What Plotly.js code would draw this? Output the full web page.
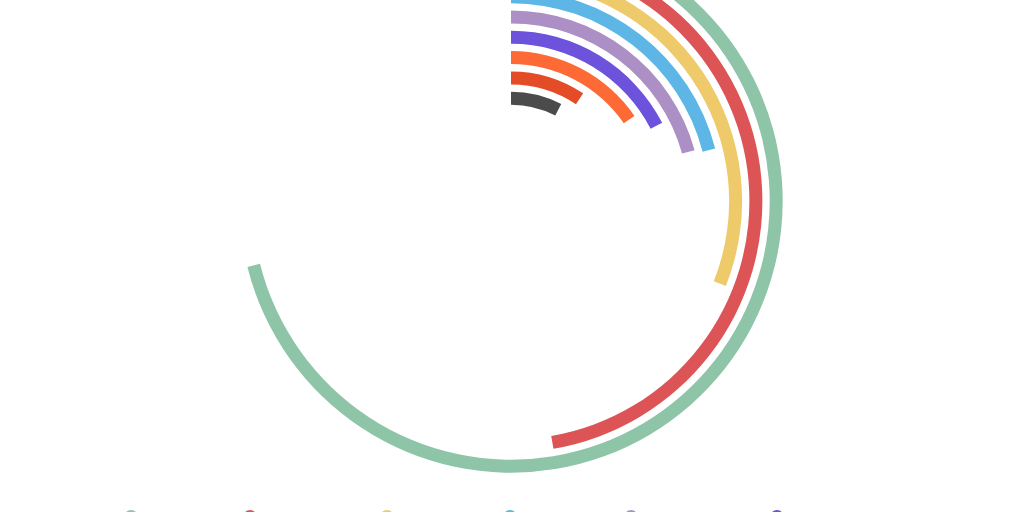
<!DOCTYPE html>
<html>
<head>
<meta charset="utf-8">
<title>Radial progress rings</title>
<script src="https://cdn.plot.ly/plotly-3.0.1.min.js"></script>
<style>
  html, body { margin: 0; padding: 0; background: #ffffff; overflow: hidden; }
  body { width: 1024px; height: 512px; position: relative; }
  /* the ring chart is taller than the window, so the div is shifted up */
  #chart { position: absolute; left: 0; top: -74px; width: 1024px; height: 640px; }
</style>
</head>
<body>
<div id="chart"></div>
<script>
// legend order = outer ring first
const CATEGORIES = [
  "Direct Entry",
  "Search Queries",
  "Podcast Ads",
  "Affiliate Ads",
  "Social Networks",
  "Union Campaign",
  "Newsletters",
  "Referrals",
  "Other Sources",
];
// share of a full turn, in percent
const VALUES = [71.1, 47.3, 31.0, 21.0, 20.7, 17.4, 15.4, 9.4, 7.6];
const COLORS = [
  "#8ec4a7",
  "#dd5457",
  "#efca6a",
  "#5db6e5",
  "#ab8fc5",
  "#6d53dc",
  "#fe6a35",
  "#e34c26",
  "#4b4b4b",
];
const MAX_VALUE = 100;

const THEME = {
  ink: "#333333",
  paper: "#ffffff",
  fontFamily: "\"DejaVu Sans\", sans-serif",
};

const RING = {
  first: 102.8,   // centre radius of the innermost ring
  pitch: 20.3,
  thickness: 13,
  outer: 275,
};

// legend entries sit just below the window edge, only the dot tops peek in.
// marker centre x (px) for each entry; row 2 is off screen
const LEGEND_SLOTS = [
  { x: 131, row: 0 }, { x: 250, row: 0 }, { x: 387, row: 0 },
  { x: 510, row: 0 }, { x: 631, row: 0 }, { x: 777, row: 0 },
  { x: 380, row: 1 }, { x: 510, row: 1 }, { x: 640, row: 1 },
];
const FIG_W = 1024;
const FIG_H = 640;
const LEGEND_TOP = 576.5; // px from top of the div
const ROW_STEP = 24;

function legendId(i) {
  return i === 0 ? "legend" : "legend" + (i + 1);
}

function ringTraces() {
  const n = CATEGORIES.length;
  const traces = [];
  CATEGORIES.forEach((name, i) => {
    const level = n - 1 - i;
    const deg = (VALUES[i] / MAX_VALUE) * 360;
    traces.push({
      type: "barpolar",
      name,
      legendgroup: name,
      showlegend: false,
      base: [RING.first + level * RING.pitch - RING.thickness / 2],
      r: [RING.thickness],
      theta: [deg / 2],
      width: [deg],
      marker: { color: COLORS[i], line: { width: 0 } },
      hovertemplate: name + ": " + VALUES[i] + "<extra></extra>",
    });
  });
  // round legend markers, one small legend each
  CATEGORIES.forEach((name, i) => {
    traces.push({
      type: "scatterpolar",
      mode: "markers",
      name,
      legendgroup: name,
      legend: legendId(i),
      r: [null],
      theta: [null],
      marker: { color: COLORS[i], size: 14, symbol: "circle" },
      hoverinfo: "skip",
    });
  });
  return traces;
}

const layout = {
  width: FIG_W,
  height: FIG_H,
  margin: { l: 0, r: 0, t: 0, b: 0 },
  paper_bgcolor: THEME.paper,
  font: { family: THEME.fontFamily, color: THEME.ink, size: 12 },
  showlegend: true,
  polar: {
    domain: { x: [0, 1022 / FIG_W], y: [1 - 550 / FIG_H, 1] },
    bgcolor: THEME.paper,
    hole: 0,
    angularaxis: {
      visible: false,
      direction: "clockwise",
      rotation: 90,
      thetaunit: "degrees",
    },
    radialaxis: {
      visible: false,
      range: [0, RING.outer],
      autorange: false,
    },
  },
};

LEGEND_SLOTS.forEach((slot, i) => {
  layout[legendId(i)] = {
    orientation: "h",
    x: (slot.x - 20) / FIG_W,
    xanchor: "left",
    y: 1 - (LEGEND_TOP + slot.row * ROW_STEP) / FIG_H,
    yanchor: "top",
    font: { size: 12, color: THEME.ink },
    bgcolor: "rgba(0,0,0,0)",
    borderwidth: 0,
  };
});

Plotly.newPlot("chart", ringTraces(), layout, { displayModeBar: false, staticPlot: true });
</script>
</body>
</html>
